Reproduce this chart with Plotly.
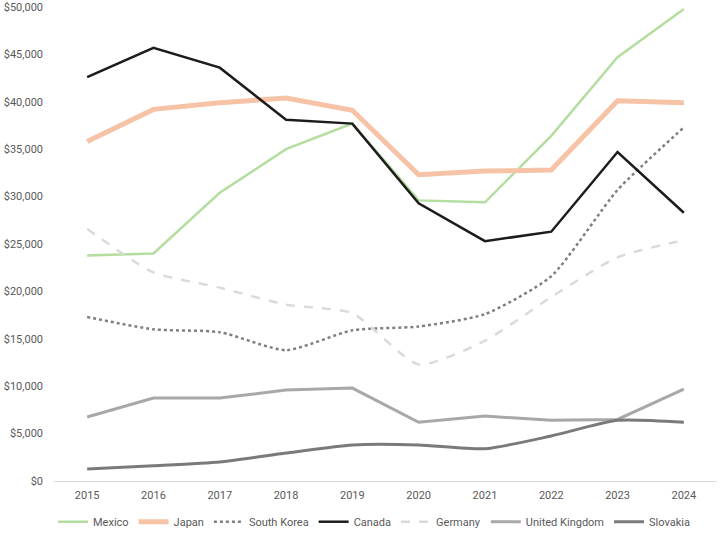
import plotly.graph_objects as go

years = ["2015", "2016", "2017", "2018", "2019", "2020", "2021", "2022", "2023", "2024"]
mexico = [23800, 24000, 30400, 35000, 37700, 29600, 29400, 36400, 44700, 49800]
japan = [35800, 39200, 39900, 40400, 39100, 32300, 32700, 32800, 40100, 39900]
south_korea = [17300, 16000, 15700, 13800, 15900, 16300, 17600, 21600, 30700, 37300]
canada = [42600, 45700, 43600, 38100, 37700, 29300, 25300, 26300, 34700, 28300]
germany = [26600, 22000, 20400, 18600, 17700, 12300, 14800, 19400, 23600, 25400]
united_kingdom = [6750, 8750, 8750, 9600, 9800, 6200, 6850, 6400, 6500, 9700]
slovakia = [1270, 1600, 2000, 2950, 3800, 3800, 3400, 4750, 6400, 6200]

y_ticks = [0, 5000, 10000, 15000, 20000, 25000, 30000, 35000, 40000, 45000, 50000]
y_tick_text = ["$0", "$5,000", "$10,000", "$15,000", "$20,000", "$25,000",
               "$30,000", "$35,000", "$40,000", "$45,000", "$50,000"]

series = [
    ("Mexico", mexico, dict(color="#b3dea0", width=2.5), "linear"),
    ("Japan", japan, dict(color="#f6c3a6", width=5), "linear"),
    ("South Korea", south_korea, dict(color="#7f7f7f", width=2.5, dash="dot"), "spline"),
    ("Canada", canada, dict(color="#1c1c1c", width=2.5), "linear"),
    ("Germany", germany, dict(color="#dadada", width=2.5, dash="dash"), "spline"),
    ("United Kingdom", united_kingdom, dict(color="#a8a8a8", width=3), "linear"),
    ("Slovakia", slovakia, dict(color="#7a7a7a", width=3), "spline"),
]

fig = go.Figure()
for name, vals, line, shape in series:
    line = dict(line)
    line["shape"] = shape
    if shape == "spline":
        line["smoothing"] = 0.6
    fig.add_trace(go.Scatter(x=years, y=vals, name=name, mode="lines", line=line))

fig.update_layout(
    width=722, height=534,
    margin=dict(l=54, r=5, t=7, b=53, autoexpand=False),
    paper_bgcolor="white", plot_bgcolor="white",
    font=dict(family="Roboto, Arial, sans-serif", size=11, color="#595959"),
    showlegend=True,
    legend=dict(orientation="h", x=0.518, xanchor="center", xref="container",
                y=0.023, yanchor="middle", yref="container",
                font=dict(size=11, color="#595959"), tracegroupgap=0),
    xaxis=dict(type="category", range=[-0.5, 9.5], showgrid=False, zeroline=False,
               showline=True, linecolor="#d9d9d9", linewidth=1, ticks="",
               ticklabelstandoff=4,
               tickfont=dict(size=11, color="#595959")),
    yaxis=dict(range=[0, 50000], tickvals=y_ticks, ticktext=y_tick_text,
               showgrid=False, zeroline=False, showline=False, ticks="",
               ticklabelstandoff=10,
               tickfont=dict(size=11, color="#595959")),
)

fig.write_html("out.html")
